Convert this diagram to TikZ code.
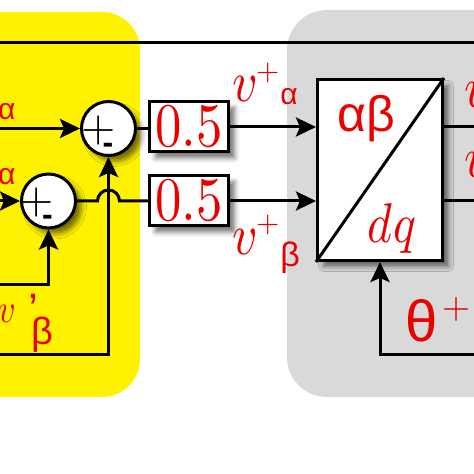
\documentclass[tikz,border=0pt]{standalone}
\usepackage{amsmath}
\usepackage{fontspec}
\usepackage{unicode-math}
\setmathfont{Latin Modern Math}
\newfontfamily\grk{Liberation Sans}
\usetikzlibrary{arrows.meta,shadows.blur}
\definecolor{lblred}{RGB}{235,0,0}
\definecolor{panelgray}{RGB}{217,217,217}
\newcommand{\sq}[1]{\scalebox{0.85}[1]{#1}}
\newcommand{\fs}[1]{\fontsize{#1}{#1}\selectfont}

\begin{document}
\begin{tikzpicture}[x=1pt,y=1pt,line width=3pt,>={Stealth[length=20pt,width=19pt,inset=4pt]}]
\tikzstyle{shade}=[blur shadow={shadow xshift=6pt,shadow yshift=-6pt,shadow blur radius=5pt,shadow opacity=55}]
\tikzstyle{sumnode}=[draw,fill=white,circle,minimum size=54pt,inner sep=0pt,shade]
\tikzstyle{gainbox}=[draw,fill=white,minimum width=79pt,minimum height=50pt,inner sep=0pt,text=lblred,shade]
\tikzstyle{sign}=[inner sep=0pt,text=black]
\tikzstyle{lbl}=[inner sep=0pt,text=lblred]
\useasboundingbox (0,0) rectangle (474,474);
% panels
\fill[yellow,rounded corners=38pt] (-60,77) rectangle (140,462);
\fill[panelgray,rounded corners=40pt] (287,77) rectangle (560,464);
% blocks
\node[sumnode] (sum1) at (108.5,345.5) {};
\node[sumnode] (sum2) at (48.5,273) {};
\node[gainbox] (box1) at (189,347) {\sq{\fs{62}$0.5$}};
\node[gainbox] (box2) at (189,273) {\sq{\fs{62}$0.5$}};
\node[draw,fill=white,minimum width=125pt,minimum height=181pt,inner sep=0pt,shade] (abdq) at (380,304) {};
\draw (abdq.south west) -- (abdq.north east);
\node[lbl,anchor=base] (ab) at (366,342) {\grk\fs{50}αβ};
\node[lbl,anchor=base] (dq) at (392,231) {\sq{\fs{56}$dq$}};
% signs
\node[sign] (p1) at ([shift={(-10,-2)}]sum1.center) {\fs{44}$+$};
\node[sign] (m1) at ([shift={(-0.5,-20)}]sum1.center) {\grk\bfseries\fs{32}-};
\node[sign] (p2) at ([shift={(-12,-2)}]sum2.center) {\fs{44}$+$};
\node[sign] (m2) at ([shift={(-1,-19)}]sum2.center) {\grk\bfseries\fs{32}-};
% free ends
\coordinate (topl) at (-10,431);
\coordinate (topr) at (480,431);
\coordinate (ina) at (-10,345.5);
\coordinate (inb) at (-10,273);
\coordinate (inc) at (-10,189);
\coordinate (ind) at (-10,119);
\coordinate (outa) at (480,347);
\coordinate (outb) at (480,273);
\coordinate (thin) at (480,119);
% connectors
\draw (topl) -- (topr);
\draw[->] (ina) -- (sum1);
\draw[->] (inb) -- (sum2);
\draw[->] (inc) -| (sum2.south);
\draw[->] (ind) -| (sum1.south);
\draw (sum1.east) -- (sum1.east -| box1.west);
\draw (sum2.east) -- ([xshift=-11pt]sum1.south |- sum2.east) arc[start angle=180,end angle=0,radius=11pt] -- (sum2.east -| box2.west);
\draw[->] (box1.east) -- (box1.east -| abdq.west);
\draw[->] (box2.east) -- (box2.east -| abdq.west);
\draw (abdq.east |- outa) -- (outa);
\draw (abdq.east |- outb) -- (outb);
\draw[->] (thin) -| (abdq.south);
% labels
\node[lbl,anchor=base west] (vpa) at (231,372) {\sq{\fs{58}$v$}\raisebox{21pt}{\fs{30}$+$}\raisebox{-3pt}{\grk\fs{30}α}};
\node[lbl,anchor=base west] (vpb) at (231,219) {\sq{\fs{58}$v$}\raisebox{22pt}{\fs{30}$+$}\raisebox{-12pt}{\grk\fs{34}β}};
\node[lbl,anchor=base west] (vpd) at (463,366) {\sq{\fs{58}$v$}\raisebox{21pt}{\fs{30}$+$}\raisebox{-3pt}{\fs{30}$d$}};
\node[lbl,anchor=base west] (vpq) at (463,296) {\sq{\fs{58}$v$}\raisebox{21pt}{\fs{30}$+$}\raisebox{-3pt}{\fs{30}$q$}};
\node[lbl,anchor=base west] (th) at (404,132) {\grk\fs{58}θ\hspace{5pt}\raisebox{23pt}{\fs{36}$+$}};
\node[lbl,anchor=base east] (va) at (17,354) {\sq{\fs{40}$v$}\hspace{12pt}\grk\fs{30}α};
\node[lbl,anchor=base east] (vb) at (17,289) {\sq{\fs{40}$v$}\hspace{12pt}\grk\fs{30}α};
\node[lbl,anchor=base west] (vc) at (-3,151) {\sq{\fs{40}$v$}\hspace{13pt}\rlap{\raisebox{-2pt}{\grk\fs{44}’}}\hspace{3pt}\raisebox{-22pt}{\grk\fs{38}β}};
\end{tikzpicture}
\end{document}
